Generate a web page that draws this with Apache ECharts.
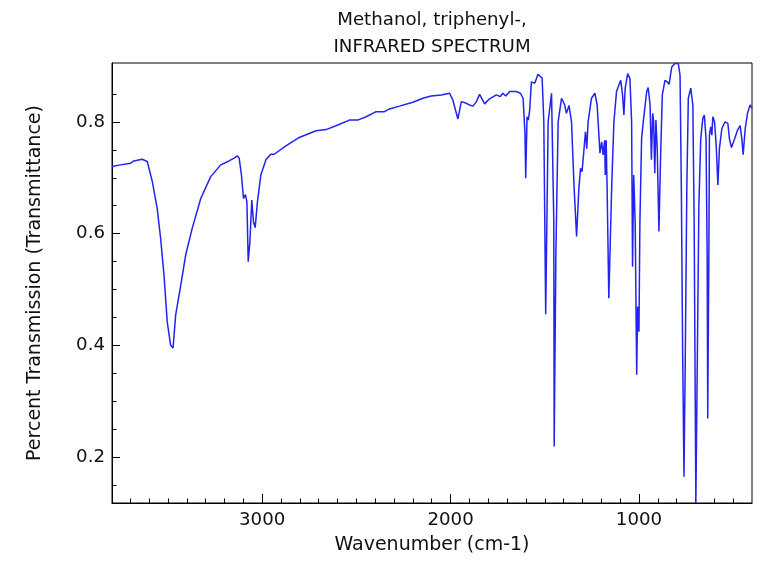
<!DOCTYPE html>
<html><head><meta charset="utf-8">
<script src="https://cdn.jsdelivr.net/npm/echarts@6/dist/echarts.min.js"></script>
<style>html,body{margin:0;padding:0;background:#fff}#c{width:781px;height:561px}</style>
</head><body><div id="c"></div>
<script>
const chartTitle = 'Methanol, triphenyl-,\nINFRARED SPECTRUM';
const xName = 'Wavenumber (cm-1)';
const yName = 'Percent Transmission (Transmittance)';

const wavenumbers = [
 3797,3752,3698,3681,3637,3610,3583,3557,3539,3521,3504,3486,3473,3459,3432,3406,3371,3326,3273,3220,
 3176,3167,3149,3131,3122,3110,3099,3089,3081,3074,3065,3055,3046,3037,3025,3007,2980,2954,2936,2928,
 2874,2803,2714,2661,2608,2537,2493,2448,2395,2351,2324,2271,2200,2147,2103,2049,2005,1988,1961,1943,
 1916,1899,1881,1863,1846,1819,1793,1757,1736,1722,1707,1686,1651,1629,1615,1605,1601,1594,1587,1580,
 1571,1553,1536,1530,1514,1505,1495,1482,1464,1452,1450,1441,1429,1411,1394,1385,1371,1358,1344,1331,
 1319,1310,1302,1293,1284,1277,1270,1252,1234,1222,1207,1198,1190,1182,1179,1174,1169,1160,1145,1133,
 1119,1097,1087,1080,1073,1060,1048,1039,1034,1028,1020,1012,1007,1000,995,986,977,973,959,951,
 941,934,927,922,916,910,903,894,885,876,862,849,840,826,809,791,782,775,768,761,
 754,746,738,725,714,707,698,690,682,672,661,653,644,638,635,629,626,619,613,608,
 599,590,581,573,560,543,528,520,509,495,477,463,454,447,436,424,410,400
];
const transmittance = [
 0.720,0.723,0.726,0.730,0.733,0.729,0.693,0.645,0.592,0.526,0.443,0.401,0.396,0.455,0.508,0.562,0.610,0.663,0.702,0.723,
 0.730,0.727,0.735,0.739,0.735,0.705,0.663,0.670,0.657,0.550,0.586,0.660,0.621,0.611,0.657,0.705,0.732,0.742,0.742,0.741,
 0.757,0.772,0.784,0.786,0.793,0.803,0.803,0.809,0.818,0.818,0.823,0.828,0.835,0.842,0.846,0.848,0.851,0.839,0.805,0.836,
 0.833,0.830,0.828,0.836,0.849,0.832,0.841,0.848,0.845,0.851,0.846,0.854,0.854,0.851,0.842,0.780,0.699,0.809,0.803,0.821,
 0.871,0.869,0.885,0.886,0.878,0.800,0.456,0.800,0.851,0.621,0.220,0.562,0.800,0.842,0.830,0.815,0.829,0.800,0.681,0.595,
 0.681,0.717,0.711,0.746,0.782,0.752,0.800,0.842,0.851,0.830,0.744,0.764,0.741,0.767,0.705,0.767,0.681,0.485,0.681,0.800,
 0.854,0.874,0.848,0.812,0.860,0.886,0.877,0.800,0.541,0.705,0.621,0.348,0.470,0.425,0.621,0.770,0.800,0.812,0.854,0.861,
 0.830,0.732,0.815,0.800,0.708,0.803,0.752,0.604,0.741,0.848,0.874,0.871,0.867,0.898,0.904,0.904,0.883,0.681,0.383,0.166,
 0.383,0.681,0.842,0.860,0.830,0.621,0.119,0.383,0.651,0.770,0.806,0.812,0.770,0.562,0.270,0.562,0.776,0.791,0.776,0.809,
 0.800,0.758,0.687,0.752,0.788,0.800,0.797,0.770,0.754,0.767,0.785,0.793,0.770,0.741,0.788,0.815,0.830,0.824
];

const xMajorTicks = [1000, 2000, 3000];
const xMinorTicks = [500,600,700,800,900,1100,1200,1300,1400,1500,1600,1700,1800,1900,2100,2200,2300,2400,2500,2600,2700,2800,2900,3100,3200,3300,3400,3500,3600,3700];
const yMajorTicks = [0.2, 0.4, 0.6, 0.8];
const yMinorTicks = [0.15,0.25,0.3,0.35,0.45,0.5,0.55,0.65,0.7,0.75,0.85];

const FONT = 'DejaVu Sans';
const X_MIN = 400, X_MAX = 3797, Y_MIN = 0.119, Y_MAX = 0.905;

const points = wavenumbers.map((w, i) => [w, transmittance[i]]);

const chart = echarts.init(document.getElementById('c'), null, {renderer: 'canvas'});
chart.setOption({
  animation: false,
  backgroundColor: '#fff',
  title: {
    text: chartTitle, left: 432, top: 7, textAlign: 'center', padding: 0,
    textStyle: {fontFamily: FONT, fontSize: 18.2, fontWeight: 'normal', color: '#111', lineHeight: 27}
  },
  grid: {left: 112, right: 29, top: 63, bottom: 58, show: true, borderColor: '#000', borderWidth: 1, backgroundColor: 'transparent'},
  xAxis: [
    {
      type: 'value', min: X_MIN, max: X_MAX, inverse: true, position: 'bottom',
      axisLine: {show: true, lineStyle: {color: '#000', width: 1}},
      axisTick: {show: true, inside: true, length: 4.5, customValues: xMinorTicks, lineStyle: {color: '#000', width: 1}},
      axisLabel: {show: true, customValues: xMajorTicks, formatter: v => String(v), fontFamily: FONT, fontSize: 18.2, color: '#111', margin: 8},
      splitLine: {show: false},
      name: xName, nameLocation: 'middle', nameGap: 33,
      nameTextStyle: {fontFamily: FONT, fontSize: 19, color: '#111'}
    },
    {
      type: 'value', min: X_MIN, max: X_MAX, inverse: true, position: 'bottom',
      axisLine: {show: false},
      axisTick: {show: true, inside: true, length: 9, customValues: xMajorTicks, lineStyle: {color: '#000', width: 1}},
      axisLabel: {show: false}, splitLine: {show: false}
    }
  ],
  yAxis: [
    {
      type: 'value', min: Y_MIN, max: Y_MAX, position: 'left',
      axisLine: {show: true, lineStyle: {color: '#000', width: 1}},
      axisTick: {show: true, inside: true, length: 4.5, customValues: yMinorTicks, lineStyle: {color: '#000', width: 1}},
      axisLabel: {show: true, customValues: yMajorTicks, formatter: v => v.toFixed(1), fontFamily: FONT, fontSize: 18.2, color: '#111', margin: 7},
      splitLine: {show: false},
      name: yName, nameLocation: 'middle', nameGap: 67, nameRotate: 90,
      nameTextStyle: {fontFamily: FONT, fontSize: 19, color: '#111'}
    },
    {
      type: 'value', min: Y_MIN, max: Y_MAX, position: 'left',
      axisLine: {show: false},
      axisTick: {show: true, inside: true, length: 8, customValues: yMajorTicks, lineStyle: {color: '#000', width: 1}},
      axisLabel: {show: false}, splitLine: {show: false}
    }
  ],
  series: [{
    type: 'line', xAxisIndex: 0, yAxisIndex: 0, data: points,
    showSymbol: false, symbol: 'none', smooth: false,
    lineStyle: {color: '#2222f2', width: 1.5},
    clip: true
  }]
});
</script></body></html>
